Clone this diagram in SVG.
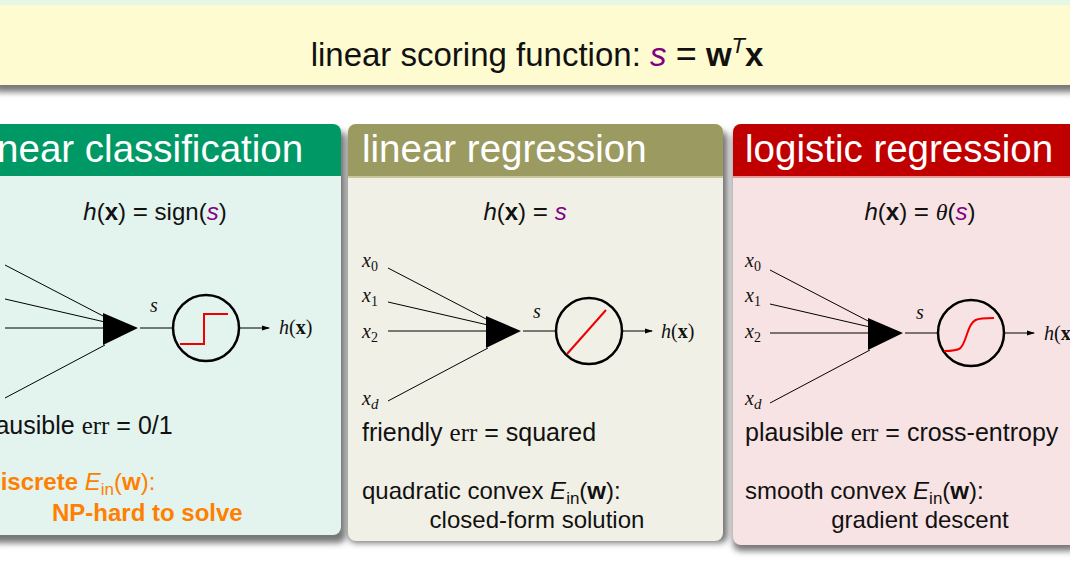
<svg xmlns="http://www.w3.org/2000/svg" width="1070" height="562" viewBox="0 0 1070 562">
<style>
.s{font-family:"Liberation Sans",Arial,sans-serif;fill:#111}
.m{font-family:"Liberation Serif","Times New Roman",serif;fill:#111}
.hd{font-family:"Liberation Sans",Arial,sans-serif;fill:#fff;font-size:38.5px}
.ln{stroke:#000;stroke-width:1;fill:none}
.p{fill:#800080}
.o{fill:#ff8000}
</style>
<defs>
<filter id="sh" x="-10%" y="-10%" width="130%" height="130%"><feGaussianBlur stdDeviation="3"/></filter>
<marker id="ar" markerWidth="8" markerHeight="6" refX="7" refY="3" orient="auto"><path d="M0,0.5 L8,3 L0,5.5 Z" fill="#000"/></marker>
<g id="net">
<path class="ln" d="M0,-63 L100,-11 M0,-29 L100,-6 M0,0 L98,0 M0,70 L100,17 M135,0 L168,0" />
<path class="ln" d="M234,0 L264,0" marker-end="url(#ar)"/>
<path d="M98,-15 L133,0 L98,17 Z" fill="#000"/>
<circle cx="201" cy="0" r="33" fill="none" stroke="#000" stroke-width="2.5"/>
</g>
</defs>
<rect x="0" y="0" width="1070" height="6" fill="#e6f7e8"/>
<rect x="-5" y="12" width="1085" height="80" fill="#777" filter="url(#sh)"/>
<rect x="-5" y="5" width="1085" height="80" fill="#fffbd1"/>
<text x="537" y="66" text-anchor="middle" class="s" font-size="33">linear scoring function: <tspan class="p" font-style="italic">s</tspan> <tspan font-size="36">=</tspan> <tspan font-weight="bold">w</tspan><tspan font-style="italic" font-size="22" dy="-13">T</tspan><tspan font-weight="bold" dy="13">x</tspan></text>

<g id="panel-classification">
<rect x="-10" y="131" width="356" height="412" rx="8" fill="#777" filter="url(#sh)"/>
<rect x="-10" y="124" width="351" height="411" rx="8" fill="#e3f3ee"/>
<path d="M-10,176 V132 a8,8 0 0 1 8,-8 H333 a8,8 0 0 1 8,8 V176 Z" fill="#009966"/>
<text x="-20" y="162" class="hd">linear classification</text>
<text x="155" y="220" text-anchor="middle" class="s" font-size="24"><tspan font-style="italic">h</tspan>(<tspan font-weight="bold">x</tspan>) <tspan font-size="26">=</tspan> sign(<tspan class="p" font-style="italic">s</tspan>)</text>
<use href="#net" x="5" y="328"/>
<path d="M180,344 H204 V314 H228" stroke="#e00" stroke-width="2" fill="none"/>
<text x="150" y="312" class="m" font-size="20" font-style="italic">s</text>
<text x="279" y="334" class="m" font-size="20"><tspan font-style="italic">h</tspan>(<tspan font-weight="bold">x</tspan>)</text>
<text x="-8" y="403" class="m" font-size="15" font-style="italic">d</text>
<text x="-24" y="434" class="s" font-size="25">plausible <tspan class="m">err</tspan> = 0/1</text>
<text x="-14" y="490" class="s o" font-size="24" font-weight="bold">discrete <tspan font-weight="normal" font-style="italic">E</tspan><tspan font-weight="normal" font-size="17" dy="5">in</tspan><tspan font-weight="normal" dy="-5">(</tspan>w<tspan font-weight="normal">):</tspan></text>
<text x="52" y="521" class="s o" font-size="24" font-weight="bold">NP-hard to solve</text>
</g>

<g id="panel-linreg">
<rect x="348" y="131" width="380" height="412" rx="8" fill="#777" filter="url(#sh)"/>
<rect x="348" y="124" width="375" height="417" rx="8" fill="#f1f0e6"/>
<path d="M348,176 V132 a8,8 0 0 1 8,-8 H715 a8,8 0 0 1 8,8 V176 Z" fill="#9b9a60"/>
<rect x="348" y="176" width="375" height="2" fill="#c8c89a"/>
<text x="362" y="162" class="hd">linear regression</text>
<text x="525" y="220" text-anchor="middle" class="s" font-size="24"><tspan font-style="italic">h</tspan>(<tspan font-weight="bold">x</tspan>) <tspan font-size="26">=</tspan> <tspan class="p" font-style="italic">s</tspan></text>
<text x="362" y="267" class="m" font-size="20" font-style="italic">x<tspan font-size="14" font-style="normal" dy="4">0</tspan></text>
<text x="362" y="302" class="m" font-size="20" font-style="italic">x<tspan font-size="14" font-style="normal" dy="4">1</tspan></text>
<text x="362" y="338" class="m" font-size="20" font-style="italic">x<tspan font-size="14" font-style="normal" dy="4">2</tspan></text>
<text x="362" y="405" class="m" font-size="20" font-style="italic">x<tspan font-size="15" dy="4">d</tspan></text>
<use href="#net" x="388" y="331"/>
<path d="M567,354 L606,310" stroke="#e00" stroke-width="2"/>
<text x="533" y="318" class="m" font-size="20" font-style="italic">s</text>
<text x="661" y="338" class="m" font-size="20"><tspan font-style="italic">h</tspan>(<tspan font-weight="bold">x</tspan>)</text>
<text x="362" y="441" class="s" font-size="25">friendly <tspan class="m">err</tspan> = squared</text>
<text x="362" y="499" class="s" font-size="24">quadratic convex <tspan font-style="italic">E</tspan><tspan font-size="17" dy="5">in</tspan><tspan dy="-5">(</tspan><tspan font-weight="bold">w</tspan>):</text>
<text x="537" y="528" text-anchor="middle" class="s" font-size="24">closed-form solution</text>
</g>

<g id="panel-logreg">
<rect x="733" y="131" width="345" height="420" rx="8" fill="#777" filter="url(#sh)"/>
<rect x="733" y="124" width="345" height="421" rx="8" fill="#f8e3e4"/>
<path d="M733,176 V132 a8,8 0 0 1 8,-8 H1078 V176 Z" fill="#c00000"/>
<rect x="733" y="176" width="345" height="2" fill="#e59a9a"/>
<text x="745" y="162" class="hd">logistic regression</text>
<text x="920" y="220" text-anchor="middle" class="s" font-size="24"><tspan font-style="italic">h</tspan>(<tspan font-weight="bold">x</tspan>) <tspan font-size="26">=</tspan> <tspan class="m" font-style="italic">θ</tspan>(<tspan class="p" font-style="italic">s</tspan>)</text>
<text x="745" y="267" class="m" font-size="20" font-style="italic">x<tspan font-size="14" font-style="normal" dy="4">0</tspan></text>
<text x="745" y="302" class="m" font-size="20" font-style="italic">x<tspan font-size="14" font-style="normal" dy="4">1</tspan></text>
<text x="745" y="338" class="m" font-size="20" font-style="italic">x<tspan font-size="14" font-style="normal" dy="4">2</tspan></text>
<text x="745" y="405" class="m" font-size="20" font-style="italic">x<tspan font-size="15" dy="4">d</tspan></text>
<use href="#net" x="770" y="333"/>
<path d="M944,351 C962,351 962,349 967,334 C972,318 976,318 994,318" stroke="#e00" stroke-width="2" fill="none"/>
<text x="916" y="319" class="m" font-size="20" font-style="italic">s</text>
<text x="1044" y="340" class="m" font-size="20"><tspan font-style="italic">h</tspan>(<tspan font-weight="bold">x</tspan>)</text>
<text x="745" y="441" class="s" font-size="25">plausible <tspan class="m">err</tspan> = cross-entropy</text>
<text x="745" y="499" class="s" font-size="24">smooth convex <tspan font-style="italic">E</tspan><tspan font-size="17" dy="5">in</tspan><tspan dy="-5">(</tspan><tspan font-weight="bold">w</tspan>):</text>
<text x="920" y="528" text-anchor="middle" class="s" font-size="24">gradient descent</text>
</g>
</svg>
